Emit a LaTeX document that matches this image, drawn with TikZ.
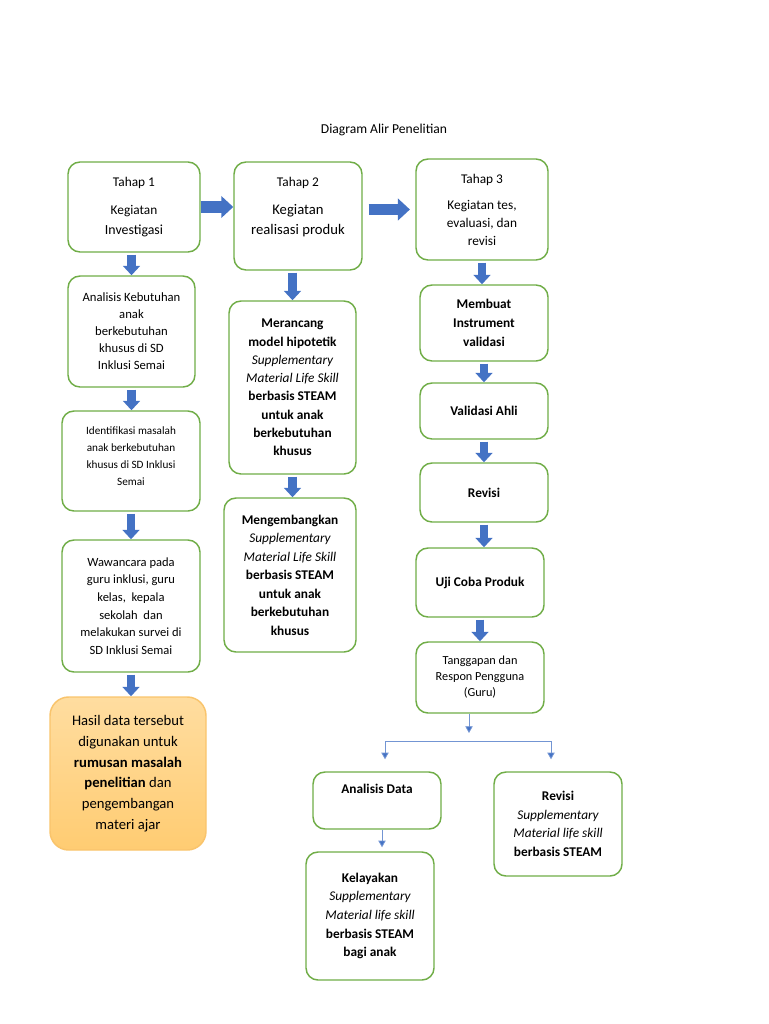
\documentclass[tikz,border=0pt]{standalone}
\usepackage{fontspec}
\setmainfont{Carlito}
\usetikzlibrary{arrows.meta,positioning,calc}
\definecolor{flowGreen}{HTML}{70AD47}
\definecolor{flowBlue}{HTML}{4472C4}
\definecolor{flowOrangeTop}{HTML}{FFDDA0}
\definecolor{flowOrangeBot}{HTML}{FFCC72}
\definecolor{flowOrangeLine}{HTML}{F9C46C}
\newcommand{\supp}[1]{{\mdseries\itshape #1}}
\tikzset{
  stagebox/.style={
    rectangle, rounded corners=9pt, draw=flowGreen, line width=1.1pt,
    fill=white, align=center, inner sep=2pt,
    font=\fontsize{10}{15}\selectfont},
  smallbox/.style={stagebox, font=\fontsize{9.5}{12.8}\selectfont},
  boldbox/.style={stagebox, font=\bfseries\fontsize{10}{14}\selectfont},
  resultbox/.style={
    stagebox, draw=flowOrangeLine, top color=flowOrangeTop,
    bottom color=flowOrangeBot, rounded corners=14pt,
    font=\fontsize{11}{15.5}\selectfont},
  blockarrow/.style={draw=flowBlue, line width=8.5pt,
    -{Triangle[length=9pt,width=16pt]}},
  downarrow/.style={draw=flowBlue, line width=6.5pt,
    -{Triangle[length=7pt,width=12.5pt]}, shorten <=1.5pt},
  thinline/.style={draw=flowBlue!75, line width=0.6pt},
  thinarrow/.style={thinline, -{Triangle[length=5pt,width=5.5pt,fill=flowBlue]}}
}

\begin{document}
\begin{tikzpicture}[x=0.75pt, y=-0.75pt]
    \useasboundingbox (0,0) rectangle (768,1024);

    \node[font=\fontsize{10.2}{12}\selectfont] (title) at (384,130) {Diagram Alir Penelitian};

    % ---- stages -----------------------------------------------
    \node[stagebox, minimum width=99pt, minimum height=67.5pt] (t1) at (134,207)
      {Tahap 1\\[6pt]Kegiatan\\{\fontsize{10.4}{15}\selectfont Investigasi}};
    \node[stagebox, minimum width=96pt, minimum height=81pt] (t2) at (298,216)
      {Tahap 2\\[6pt]{\fontsize{11}{15}\selectfont Kegiatan}\\{\fontsize{11}{15}\selectfont realisasi produk}\\\mbox{}};
    \node[stagebox, font=\fontsize{10}{13.2}\selectfont,
          minimum width=99pt, minimum height=75.75pt] (t3) at (482,209.5)
      {Tahap 3\\[7pt]Kegiatan tes,\\evaluasi, dan\\revisi};

    \draw[blockarrow] (t1.east) -- (t1.east -| t2.west);
    \draw[blockarrow, shorten <=4.5pt, shorten >=4pt] (t3.west -| t2.east) -- (t3.west);

    % ---- left column ------------------------------------------
    \node[smallbox, minimum width=95.25pt, minimum height=83.25pt] (need) at (131.5,331.5)
      {Analisis Kebutuhan\\anak\\berkebutuhan\\khusus di SD\\Inklusi Semai};
    \node[smallbox, font=\fontsize{8.4}{12.8}\selectfont,
          minimum width=103.5pt, minimum height=75pt] (ident) at (131,461)
      {Identifikasi masalah\\anak berkebutuhan\\khusus di SD Inklusi\\Semai\\[-6pt]\mbox{}};
    \node[smallbox, font=\fontsize{9.4}{13.2}\selectfont,
          minimum width=103.5pt, minimum height=99pt] (intv) at (131,606)
      {Wawancara pada\\guru inklusi, guru\\kelas,~ kepala\\sekolah~ dan\\melakukan survei di\\SD Inklusi Semai};
    \node[resultbox, minimum width=117pt, minimum height=114.75pt] (result) at (128,773.5)
      {Hasil data tersebut\\digunakan untuk\\\textbf{rumusan masalah}\\\textbf{penelitian} dan\\pengembangan\\materi ajar};

    \draw[downarrow] (t1.south -| need.north) -- (need.north);
    \draw[downarrow] (need.south) -- (need.south |- ident.north);
    \draw[downarrow] (ident.south) -- (ident.south |- intv.north);
    \draw[downarrow] (intv.south) -- (intv.south |- result.north);

    % ---- middle column ----------------------------------------
    \node[boldbox, font=\bfseries\fontsize{10}{13.7}\selectfont,
          minimum width=95.25pt, minimum height=129.75pt] (design) at (292.5,387.5)
      {Merancang\\model hipotetik\\\supp{Supplementary}\\\supp{Material Life Skill}\\berbasis STEAM\\untuk anak\\berkebutuhan\\khusus};
    \node[boldbox, font=\bfseries\fontsize{10}{13.9}\selectfont,
          minimum width=99pt, minimum height=115.5pt] (develop) at (290,575)
      {Mengembangkan\\\supp{Supplementary}\\\supp{Material Life Skill}\\berbasis STEAM\\untuk anak\\berkebutuhan\\khusus};

    \draw[downarrow] (design.north |- t2.south) -- (design.north);
    \draw[downarrow] (design.south) -- (design.south |- develop.north);

    % ---- right column -----------------------------------------
    \node[boldbox, minimum width=96pt, minimum height=57pt] (instr) at (484,323)
      {Membuat\\Instrument\\validasi};
    \node[boldbox, minimum width=96pt, minimum height=42pt] (expert) at (484,411)
      {Validasi Ahli};
    \node[boldbox, minimum width=96pt, minimum height=44.25pt] (revise) at (484,492.5)
      {Revisi};
    \node[boldbox, minimum width=96pt, minimum height=51.75pt] (trial) at (480,582.5)
      {Uji Coba Produk};
    \node[smallbox, font=\fontsize{9.2}{12}\selectfont,
          minimum width=96pt, minimum height=53.25pt] (resp) at (480,677.5)
      {Tanggapan dan\\Respon Pengguna\\(Guru)};

    \draw[downarrow] (t3.south) -- (t3.south |- instr.north);
    \draw[downarrow] (instr.south) -- (instr.south |- expert.north);
    \draw[downarrow] (expert.south) -- (expert.south |- revise.north);
    \draw[downarrow] (revise.south) -- (revise.south |- trial.north);
    \draw[downarrow] (trial.south) -- (trial.south |- resp.north);

    % ---- branch after user response ---------------------------
    \node[boldbox, minimum width=96pt, minimum height=42.75pt] (anal) at (377,800.5)
      {Analisis Data\\[4pt]\mbox{}};
    \node[boldbox, minimum width=96pt, minimum height=78pt] (rsupp) at (558,824)
      {Revisi\\\supp{Supplementary}\\\supp{Material life skill}\\berbasis STEAM};
    \node[boldbox, minimum width=96pt, minimum height=96pt] (feas) at (370,916)
      {Kelayakan\\\supp{Supplementary}\\\supp{Material life skill}\\berbasis STEAM\\bagi anak};

    \coordinate (split) at (469,733);
    \coordinate (forkL) at (385,741);
    \coordinate (forkR) at (551,741);
    \draw[thinarrow] (resp.south -| split) -- (split);
    \draw[thinline] (forkL) -- (forkR);
    \draw[thinarrow, shorten >=9pt] (forkL) -- (forkL |- anal.north);
    \draw[thinarrow, shorten >=9pt] (forkR) -- (forkR |- rsupp.north);
    \draw[thinarrow, shorten >=3pt] ($(anal.south)+(5,0)$) -- ($(anal.south |- feas.north)+(5,0)$);

\end{tikzpicture}
\end{document}
